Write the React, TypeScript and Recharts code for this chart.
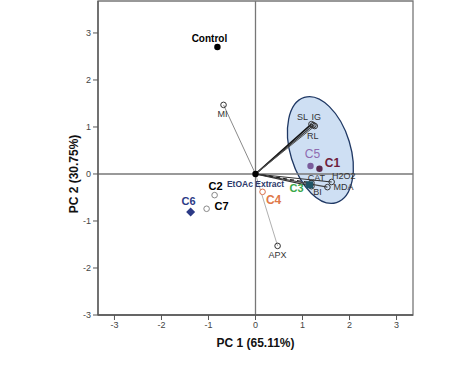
import React from "react";
import {
  ScatterChart,
  Scatter,
  XAxis,
  YAxis,
  ReferenceLine,
  ReferenceArea,
  Label,
} from "recharts";

// PCA scores (cases)
const caseNames = ["Control", "C1", "C5", "C3", "C4", "C2", "C7", "C6", "EtOAc Extract"];
const casePC1 = [-0.81, 1.36, 1.17, 1.15, 0.15, -0.87, -1.04, -1.38, 0];
const casePC2 = [2.7, 0.11, 0.17, -0.23, -0.38, -0.45, -0.74, -0.81, 0];

// PCA loadings (variables)
const varNames = ["MI", "SL", "IG", "RL", "H2O2", "MDA", "CAT", "BI", "APX"];
const varPC1 = [-0.68, 1.19, 1.23, 1.26, 1.62, 1.53, 1.19, 1.19, 0.47];
const varPC2 = [1.47, 1.06, 1.04, 1.02, -0.17, -0.28, -0.19, -0.26, -1.53];

const axisTicks = [-3, -2, -1, 0, 1, 2, 3];

// group ellipse (centre, half axes in data units, tilt in degrees)
const ellipseCenter = [1.38, 0.51];
const ellipseHalf = [0.64, 1.17];
const ellipseTilt = -17;

// marker / label styling per case
const caseStyle: Record<string, any> = {
  Control: { marker: "dot", fill: "#000", color: "#000", size: 10, bold: true, dx: -8, dy: -9 },
  C1: { marker: "dot", fill: "#5a2a4e", color: "#6e1e3c", size: 12, bold: true, dx: 13, dy: -6 },
  C5: { marker: "dot", fill: "#7a5c9c", color: "#8e6bb0", size: 12, bold: false, dx: 2, dy: -12 },
  C3: { marker: "square", fill: "#1f5566", color: "#3aa84a", size: 11, bold: true, dx: -13, dy: 3 },
  C4: { marker: "open", fill: "#d9704a", color: "#e07848", size: 12, bold: true, dx: 11, dy: 8 },
  C2: { marker: "open", fill: "#888", color: "#000", size: 11, bold: true, dx: 1, dy: -9 },
  C7: { marker: "open", fill: "#888", color: "#000", size: 11, bold: true, dx: 15, dy: -3 },
  C6: { marker: "diamond", fill: "#2c3a86", color: "#2c3a86", size: 11, bold: true, dx: -2, dy: -11 },
  "EtOAc Extract": { marker: "dot", fill: "#000", color: "#2d3a6b", size: 8.5, bold: true, dx: 0, dy: 10 },
};

const varStyle: Record<string, any> = {
  MI: { line: "#8a8a8a", width: 1, dx: -1, dy: 9 },
  SL: { line: "#111", width: 1.6, dx: -9, dy: -7 },
  IG: { line: "#333", width: 1.2, dx: 3, dy: -8 },
  RL: { line: "#555", width: 1, dx: -2, dy: 10 },
  H2O2: { line: "#333", width: 1.2, dx: 12, dy: -6 },
  MDA: { line: "#444", width: 1.2, dx: 16, dy: 0 },
  CAT: { line: "#222", width: 1.2, dx: 5, dy: -5, dash: "4 3" },
  BI: { line: "#333", width: 1.2, dx: 6, dy: 6 },
  APX: { line: "#b0b0b0", width: 1, dx: 0, dy: 9 },
};

const font = "'Liberation Sans', Arial, sans-serif";

const cases = caseNames.map((name, i) => ({ name, x: casePC1[i], y: casePC2[i] }));
const vars = varNames.map((name, i) => ({ name, x: varPC1[i], y: varPC2[i] }));

const CaseShape = (props: any) => {
  const { cx, cy, payload } = props;
  const s = caseStyle[payload.name];
  let marker;
  if (s.marker === "dot") marker = <circle cx={cx} cy={cy} r={3.2} fill={s.fill} />;
  else if (s.marker === "square")
    marker = <rect x={cx - 3.5} y={cy - 3.5} width={7} height={7} fill={s.fill} />;
  else if (s.marker === "diamond")
    marker = (
      <polygon
        points={`${cx},${cy - 4.5} ${cx + 4.5},${cy} ${cx},${cy + 4.5} ${cx - 4.5},${cy}`}
        fill={s.fill}
      />
    );
  else marker = <circle cx={cx} cy={cy} r={2.8} fill="#fff" stroke={s.fill} strokeWidth={1} />;
  return (
    <g>
      {marker}
      <text
        x={cx + s.dx}
        y={cy + s.dy}
        textAnchor="middle"
        dominantBaseline="central"
        fontFamily={font}
        fontSize={s.size}
        fontWeight={s.bold ? "bold" : "normal"}
        fill={s.color}
      >
        {payload.name}
      </text>
    </g>
  );
};

const VarShape = (props: any) => {
  const { cx, cy, payload } = props;
  const s = varStyle[payload.name];
  return (
    <g>
      <circle cx={cx} cy={cy} r={2.8} fill="none" stroke="#333" strokeWidth={1} />
      <text
        x={cx + s.dx}
        y={cy + s.dy}
        textAnchor="middle"
        dominantBaseline="central"
        fontFamily={font}
        fontSize={9}
        fill="#333"
      >
        {payload.name}
      </text>
    </g>
  );
};

const EllipseShape = (props: any) => {
  const { x, y, width, height } = props;
  const cx = x + width / 2;
  const cy = y + height / 2;
  return (
    <ellipse
      cx={cx}
      cy={cy}
      rx={width / 2}
      ry={height / 2}
      transform={`rotate(${ellipseTilt} ${cx} ${cy})`}
      fill="#c5d9f1"
      fillOpacity={0.85}
      stroke="#1f3864"
      strokeWidth={1.3}
    />
  );
};

const tickStyle = { fontSize: 9, fill: "#444", fontFamily: font };

export default function App() {
  return (
    <div style={{ position: "absolute", left: 0, top: 0, background: "#fff" }}>
      <ScatterChart
        width={474}
        height={379}
        margin={{ top: 1, right: 61, bottom: 0, left: 0 }}
      >
        <XAxis
          type="number"
          dataKey="x"
          domain={[-3.35, 3.35]}
          ticks={axisTicks}
          height={64}
          tick={tickStyle}
          tickSize={5}
          tickMargin={2}
          axisLine={{ stroke: "#555", strokeWidth: 1.3 }}
          tickLine={{ stroke: "#555" }}
          allowDataOverflow
        >
          <Label
            content={(p: any) => (
              <text
                x={p.viewBox.x + p.viewBox.width / 2}
                y={343}
                textAnchor="middle"
                dominantBaseline="central"
                fontFamily={font}
                fontWeight="bold"
                fontSize={12}
                fill="#111"
              >
                PC 1 (65.11%)
              </text>
            )}
          />
        </XAxis>
        <YAxis
          type="number"
          dataKey="y"
          domain={[-3, 3.68]}
          ticks={axisTicks}
          width={98}
          tick={tickStyle}
          tickSize={5}
          tickMargin={2}
          axisLine={{ stroke: "#555", strokeWidth: 1.3 }}
          tickLine={{ stroke: "#555" }}
          allowDataOverflow
        >
          <Label
            content={() => (
              <text
                x={74}
                y={174}
                transform="rotate(-90 74 174)"
                textAnchor="middle"
                dominantBaseline="central"
                fontFamily={font}
                fontWeight="bold"
                fontSize={12}
                fill="#111"
              >
                PC 2 (30.75%)
              </text>
            )}
          />
        </YAxis>
        <ReferenceArea
          x1={-3.35}
          x2={3.35}
          y1={-3}
          y2={3.68}
          fill="none"
          stroke="#777"
          strokeWidth={1.3}
          ifOverflow="visible"
        />
        <ReferenceLine x={0} stroke="#777" strokeWidth={1.3} />
        <ReferenceLine y={0} stroke="#777" strokeWidth={1.3} />
        <ReferenceArea
          x1={ellipseCenter[0] - ellipseHalf[0]}
          x2={ellipseCenter[0] + ellipseHalf[0]}
          y1={ellipseCenter[1] - ellipseHalf[1]}
          y2={ellipseCenter[1] + ellipseHalf[1]}
          shape={EllipseShape}
          ifOverflow="visible"
        />
        {vars.map((v) => {
          const s = varStyle[v.name];
          return (
            <Scatter
              key={"vec-" + v.name}
              data={[{ x: 0, y: 0 }, { x: v.x, y: v.y }]}
              line={{ stroke: s.line, strokeWidth: s.width, strokeDasharray: s.dash }}
              shape={() => <g />}
              isAnimationActive={false}
            />
          );
        })}
        <Scatter data={vars} shape={VarShape} isAnimationActive={false} />
        <Scatter data={cases} shape={CaseShape} isAnimationActive={false} />
      </ScatterChart>
    </div>
  );
}
